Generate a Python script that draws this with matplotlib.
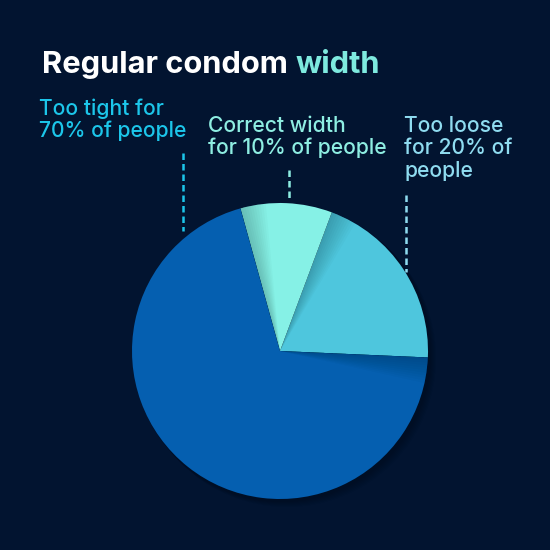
import matplotlib.pyplot as plt
from matplotlib.patches import Wedge

# slices listed counter-clockwise, starting at the right edge
shares = [20, 10, 70]
slice_colors = ["#4ec6dd", "#86f1e6", "#055fb0"]

title_main = "Regular condom "
title_accent = "width"

label_lines = [
    ["Too tight for", "70% of people"],
    ["Correct width", "for 10% of people"],
    ["Too loose", "for 20% of", "people"],
]
label_colors = ["#1cc6ea", "#8eeee2", "#8fdcf0"]

BG = "#021430"
H = 550
FONT = "Inter"


def Y(y):
    # pixel row (from top) -> data y
    return H - y


fig = plt.figure(figsize=(5.5, 5.5), dpi=100, facecolor=BG)
ax = fig.add_axes([0, 0, 1, 1])
ax.set_xlim(0, 550)
ax.set_ylim(0, 550)
ax.set_facecolor(BG)
ax.axis("off")

cx, cy, r = 280, Y(351), 148
start = -2.5

# soft drop shadow
for k in range(6):
    ax.add_patch(plt.Circle((cx + 2 + k, cy - 2 - k), r + 1, color="black",
                            alpha=0.04, lw=0, zorder=1))

wedges, _ = ax.pie(shares, colors=slice_colors, startangle=start,
                   counterclock=True, radius=r, center=(cx, cy),
                   wedgeprops=dict(linewidth=0))
for w in wedges:
    w.set_zorder(2)
ax.set_xlim(0, 550)
ax.set_ylim(0, 550)

# folded-paper shading along the upper edge of each slice
ang = start
for s in shares:
    end = ang + s * 3.6
    for k in range(1, 11):
        ax.add_patch(Wedge((cx, cy), r, end - k * 1.0, end, color="black",
                           alpha=0.018, lw=0, zorder=3))
    ang = end

# title
t = ax.text(42, Y(73), title_main, color="white", fontsize=22.2,
            fontweight="bold", family=FONT, va="baseline", ha="left")
ax.annotate(title_accent, xy=(1, 0), xycoords=t, va="bottom", ha="left",
            color="#7eeadf", fontsize=22.2, fontweight="bold", family=FONT)

# labels
label_x = [39, 208, 404]
label_base = [115, 132, 132]
for lines, lx, lb, col in zip(label_lines, label_x, label_base, label_colors):
    for i, line in enumerate(lines):
        ax.text(lx, Y(lb + i * 22.3), line, color=col, fontsize=15.2,
                family=FONT, fontweight="medium", va="baseline", ha="left")

# dashed leader lines
leaders = [(183, 153, 231), (289, 170, 198), (406, 195, 272)]
for (lx, y0, y1), col in zip(leaders, label_colors):
    ax.plot([lx, lx], [Y(y0), Y(y1)], color=col, lw=1.8,
            linestyle=(0, (2.6, 1.6)), zorder=4)

fig.savefig("out.png", dpi=100, facecolor=BG)
